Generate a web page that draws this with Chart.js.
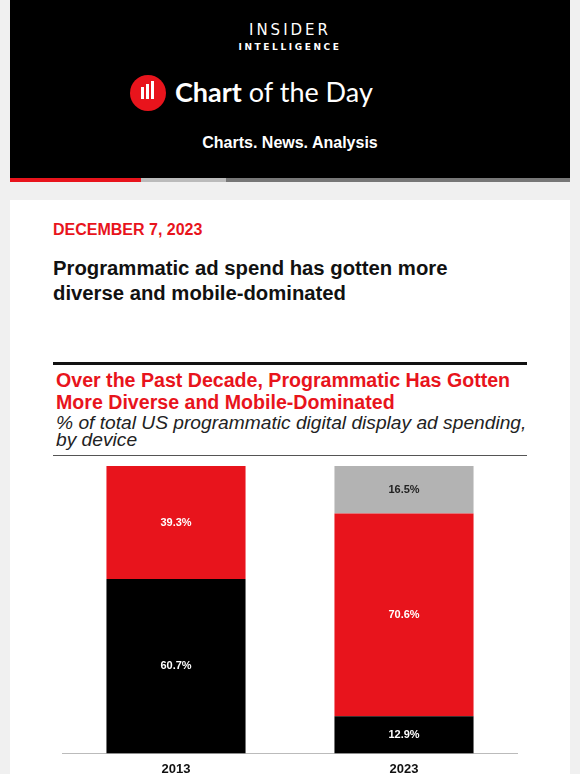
<!DOCTYPE html>
<html><head><meta charset="utf-8">
<script src="https://cdn.jsdelivr.net/npm/chart.js@4"></script>
<style>
body{margin:0;width:580px;height:774px;background:#f0f0f0;font-family:"Liberation Sans",Arial,sans-serif;position:relative;overflow:hidden}
.abs{position:absolute}
#hdr{left:10px;top:0;width:560px;height:178px;background:#000}
#card{left:10px;top:200px;width:560px;height:600px;background:#fff}
</style></head><body>
<div id="hdr" class="abs"></div>
<div class="abs" style="left:10px;top:178px;width:131px;height:4px;background:#e8141c"></div>
<div class="abs" style="left:141px;top:178px;width:85px;height:4px;background:#bbb"></div>
<div class="abs" style="left:226px;top:178px;width:344px;height:4px;background:#777"></div>
<div class="abs" style="left:0;top:21px;width:580px;text-align:center;color:#fff;font:15px 'DejaVu Sans';letter-spacing:3px">INSIDER</div>
<div class="abs" style="left:0;top:42px;width:580px;text-align:center;color:#fff;font:bold 9px 'DejaVu Sans';letter-spacing:2.6px">INTELLIGENCE</div>
<div class="abs" style="left:130px;top:75px;width:36px;height:36px;border-radius:50%;background:#e8141c"></div>
<div class="abs" style="left:141px;top:87px;width:3px;height:12px;background:#fff"></div>
<div class="abs" style="left:146px;top:84px;width:3px;height:15px;background:#fff"></div>
<div class="abs" style="left:151px;top:81px;width:3px;height:18px;background:#fff"></div>
<div class="abs" style="left:175px;top:75px;color:#fff;font:27px Lato,'Open Sans',sans-serif;white-space:nowrap"><b>Chart</b> of the Day</div>
<div class="abs" style="left:0;top:134px;width:580px;text-align:center;color:#fff;font:bold 16px 'Liberation Sans'">Charts. News. Analysis</div>
<div id="card" class="abs"></div>
<div class="abs" style="left:53px;top:221px;color:#e8141c;font:bold 16px 'Liberation Sans'">DECEMBER 7, 2023</div>
<div class="abs" style="left:53px;top:256px;color:#111;font:bold 20.3px/25px 'Liberation Sans';width:470px">Programmatic ad spend has gotten more diverse and mobile-dominated</div>
<div class="abs" style="left:53px;top:362px;width:474px;height:3px;background:#111"></div>
<div class="abs" style="left:56px;top:369px;color:#e8141c;font:bold 19.6px/22px 'Liberation Sans';width:480px">Over the Past Decade, Programmatic Has Gotten More Diverse and Mobile-Dominated</div>
<div class="abs" style="left:56px;top:414px;color:#222;font:italic 19.2px/17px 'Liberation Sans';width:480px">% of total US programmatic digital display ad spending, by device</div>
<div class="abs" style="left:53px;top:455px;width:474px;height:1px;background:#555"></div>
<div class="abs" style="left:62px;top:460px;width:456px;height:317px"><canvas id="c"></canvas></div>
<script>
const categories=["2013","2023"];
const desktopVals=[60.7,12.9];
const mobileVals=[39.3,70.6];
const otherVals=[0,16.5];
const labelPlugin={id:"lbl",afterDatasetsDraw(ch){const ctx=ch.ctx;ctx.save();ctx.font="bold 11px 'Liberation Sans'";ctx.textAlign="center";ctx.textBaseline="middle";
ch.data.datasets.forEach((ds,i)=>{ch.getDatasetMeta(i).data.forEach((b,j)=>{const v=ds.data[j];if(!v)return;ctx.fillStyle=i==2?"#222":"#fff";ctx.fillText(v.toFixed(1)+"%",b.x,(b.y+b.base)/2);});});ctx.restore();}};
new Chart(document.getElementById("c"),{type:"bar",
data:{labels:categories,datasets:[
{label:"Desktop",data:desktopVals,backgroundColor:"#000"},
{label:"Mobile",data:mobileVals,backgroundColor:"#e8141c"},
{label:"Other",data:otherVals,backgroundColor:"#b3b3b3"}]},
options:{responsive:true,maintainAspectRatio:false,animation:false,
layout:{padding:{top:6,bottom:0}},
datasets:{bar:{barPercentage:0.61,categoryPercentage:1}},
plugins:{legend:{display:false},tooltip:{enabled:false}},
scales:{x:{stacked:true,grid:{display:false},border:{color:"#bbb"},ticks:{color:"#111",font:{family:"Liberation Sans",weight:"bold",size:13},padding:0}},
y:{stacked:true,display:false,min:0,max:100}}},
plugins:[labelPlugin]});
</script>
</body></html>
